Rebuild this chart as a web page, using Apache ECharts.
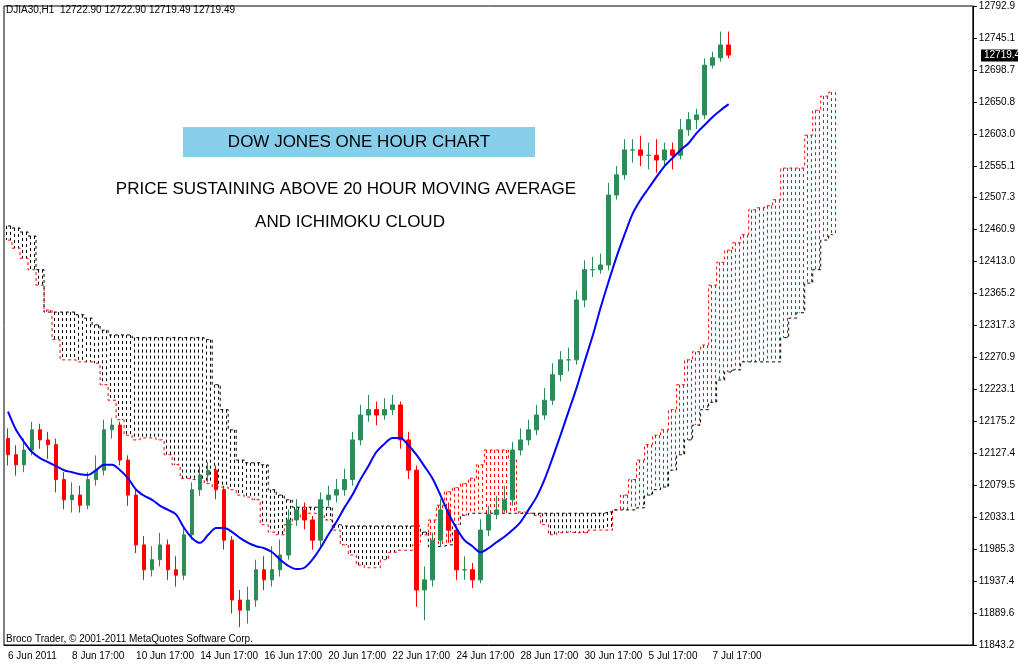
<!DOCTYPE html>
<html><head><meta charset="utf-8">
<script src="https://cdn.jsdelivr.net/npm/echarts@6/dist/echarts.min.js"></script>
<style>html,body{margin:0;padding:0;background:#fff}#c{width:1018px;height:666px}</style>
</head><body><div id="c"></div>
<script>
const dateLabels=['6 Jun 2011','8 Jun 17:00','10 Jun 17:00','14 Jun 17:00','16 Jun 17:00','20 Jun 17:00','22 Jun 17:00','24 Jun 17:00','28 Jun 17:00','30 Jun 17:00','5 Jul 17:00','7 Jul 17:00'];
const priceTicks=['11843.2','11889.6','11937.4','11985.3','12033.1','12079.5','12127.4','12175.2','12223.1','12270.9','12317.3','12365.2','12413.0','12460.9','12507.3','12555.1','12603.0','12650.8','12698.7','12745.1','12792.9'];
const lastPrice=12719.49;
const opens=[12150,12126,12111,12133,12163,12148,12141,12089,12059,12066,12051,12089,12103,12163,12170,12118,12066,11992,11955,11970,11992,11955,11947,12007,12074,12096,12103,12074,11999,11910,11895,11910,11955,11940,11955,11977,12029,12044,12029,11999,12059,12066,12074,12089,12148,12185,12193,12185,12193,12200,12148,12103,11925,11940,11999,12044,12014,11955,11955,11940,12014,12037,12044,12059,12133,12148,12163,12185,12207,12245,12267,12267,12356,12401,12401,12408,12512,12542,12579,12579,12571,12571,12564,12579,12571,12609,12624,12631,12705,12716,12735];
const closes=[12126,12111,12133,12163,12148,12141,12089,12059,12066,12051,12089,12103,12163,12170,12118,12066,11992,11955,11970,11992,11955,11947,12007,12074,12096,12103,12074,11999,11910,11895,11910,11955,11940,11955,11977,12029,12044,12029,11999,12059,12066,12074,12089,12148,12185,12193,12185,12193,12200,12148,12103,11925,11940,11999,12044,12014,11955,11955,11940,12014,12037,12044,12059,12133,12148,12163,12185,12207,12245,12267,12267,12356,12401,12401,12408,12512,12542,12579,12579,12571,12571,12564,12579,12571,12609,12624,12631,12705,12716,12735,12720];
const highs=[12165,12140,12150,12175,12172,12160,12150,12100,12085,12080,12100,12125,12178,12180,12175,12125,12075,12005,11990,12010,12000,11975,12020,12085,12110,12115,12110,12080,12005,11925,11930,11970,11975,11990,12000,12045,12060,12055,12035,12070,12080,12090,12105,12160,12200,12215,12205,12210,12215,12205,12160,12110,11960,12010,12060,12055,12020,11975,11965,12030,12050,12065,12080,12145,12165,12178,12200,12225,12262,12280,12285,12370,12415,12420,12425,12530,12555,12595,12595,12600,12590,12595,12590,12590,12625,12635,12640,12715,12725,12755,12755];
const lows=[12110,12095,12100,12125,12135,12120,12070,12045,12040,12040,12045,12080,12095,12150,12110,12050,11980,11940,11945,11960,11940,11930,11940,12000,12065,12085,12060,11985,11890,11870,11875,11900,11925,11930,11945,11970,12020,12015,11985,11990,12050,12055,12065,12080,12140,12175,12170,12178,12185,12135,12090,11900,11880,11930,11990,11995,11940,11940,11928,11935,12005,12030,12040,12050,12125,12140,12155,12178,12200,12235,12250,12260,12345,12390,12395,12400,12505,12535,12560,12555,12550,12545,12555,12550,12565,12600,12610,12625,12700,12710,12715];
const ma20=[12190,12163,12145,12130,12121,12115,12109,12103,12100,12097,12096,12103,12111,12111,12103,12091,12074,12065,12059,12050,12044,12037,12017,12002,11995,12007,12017,12017,12011,12002,11995,11990,11987,11981,11970,11961,11956,11958,11970,11987,12007,12026,12047,12066,12089,12109,12130,12142,12151,12151,12140,12126,12109,12091,12066,12039,12017,11999,11990,11981,11987,11996,12004,12014,12026,12044,12063,12089,12121,12155,12190,12225,12264,12302,12344,12383,12420,12453,12484,12505,12522,12539,12555,12567,12579,12589,12604,12616,12628,12638,12647];
const spanA=[12445,12433,12418,12401,12378,12341,12297,12267,12267,12264,12264,12262,12230,12207,12178,12155,12148,12151,12151,12148,12126,12111,12091,12089,12089,12083,12078,12078,12074,12066,12063,12059,12022,12011,12007,12022,12032,12039,12039,12036,12029,12014,11992,11977,11962,11958,11958,11970,11981,11984,11984,11992,12007,12029,12051,12071,12077,12083,12091,12111,12133,12133,12133,12118,12041,12039,12036,12022,12007,12010,12011,12010,12010,12014,12014,12014,12044,12066,12089,12118,12141,12155,12163,12193,12230,12267,12279,12289,12378,12412,12430,12441,12453,12490,12493,12496,12505,12552,12552,12552,12601,12638,12659,12665];
const spanB=[12466,12463,12457,12451,12401,12338,12338,12338,12338,12334,12329,12319,12311,12304,12304,12304,12300,12300,12300,12300,12300,12300,12300,12300,12300,12297,12230,12193,12163,12118,12114,12114,12111,12074,12066,12059,12048,12048,12048,12048,12048,12022,12020,12020,12020,12020,12020,12020,12020,12020,12020,12020,12011,11989,11990,11992,12022,12036,12039,12039,12039,12039,12039,12039,12039,12039,12039,12039,12039,12039,12039,12039,12039,12039,12039,12041,12044,12044,12044,12047,12066,12074,12078,12103,12126,12148,12170,12193,12204,12237,12249,12252,12264,12264,12264,12264,12264,12300,12329,12337,12381,12401,12445,12453];
const NCAT=121;
const categories=[];for(let i=0;i<NCAT;i++)categories.push('b'+i);
const candleData=opens.map((o,i)=>[o,closes[i],lows[i],highs[i]]);
const chart=echarts.init(document.getElementById('c'),null,{renderer:'canvas'});
const F='"Liberation Sans", Arial, sans-serif';
function hatchSeries(up,col){
 const data=[];spanA.forEach((a,i)=>{if((a>=spanB[i])===up)data.push(['b'+i,a,spanB[i]]);});
 return {type:'custom',yAxisIndex:0,z:1,silent:true,data:data,encode:{x:0,y:[1,2]},
  renderItem:(params,api)=>{
   const k=api.value(0),a=api.value(1),b=api.value(2);
   const p1=api.coord([k,a]),p2=api.coord([k,b]);
   const w=api.size([1,0])[0];
   const y0=Math.min(p1[1],p2[1]),y1=Math.max(p1[1],p2[1]);
   let d='';
   [-w/4,w/4].forEach(o=>{const x=Math.round(p1[0]+o)+0.5;for(let y=y0;y<y1;y+=6){d+='M'+x+' '+y+'L'+x+' '+Math.min(y+3,y1);}});
   if(!d)return null;
   return {type:'path',shape:{pathData:d},style:{stroke:col,fill:'none',lineWidth:1}};
  }};
}
chart.setOption({
 animation:false,
 grid:{left:4,right:43,top:6,bottom:21,show:true,borderColor:'#000',borderWidth:1},
 xAxis:{type:'category',data:categories,boundaryGap:true,
  axisLine:{lineStyle:{color:'#000'}},axisTick:{show:false},
  axisLabel:{interval:0,color:'#000',fontSize:10,fontFamily:F,align:'left',margin:6,
   formatter:(v,idx)=>(idx%8===0&&dateLabels[idx/8])?dateLabels[idx/8]:''},splitLine:{show:false}},
 yAxis:[{type:'value',min:11843.2,max:12792.9,position:'right',show:false,scale:true},
  {type:'value',min:0,max:20,interval:1,position:'right',
   axisLine:{show:true,lineStyle:{color:'#000'}},axisTick:{show:true,length:4,lineStyle:{color:'#000'}},
   splitLine:{show:false},
   axisLabel:{color:'#000',fontSize:10,fontFamily:F,margin:6,formatter:v=>priceTicks[v]}}],
 series:[
  hatchSeries(true,'#ff0000'),
  hatchSeries(false,'#000000'),
  {type:'line',yAxisIndex:0,data:spanA,step:'middle',symbol:'none',lineStyle:{color:'#ff0000',width:1,type:[3,3]},z:2},
  {type:'line',yAxisIndex:0,data:spanB,step:'middle',symbol:'none',lineStyle:{color:'#000',width:1,type:[3,3]},z:2},
  {type:'candlestick',yAxisIndex:0,data:candleData,barWidth:4,z:3,
   itemStyle:{color:'#2e8b57',color0:'#ff0000',borderColor:'#2e8b57',borderColor0:'#ff0000',borderWidth:1}},
  {type:'line',yAxisIndex:0,data:ma20,symbol:'none',smooth:0.3,lineStyle:{color:'#0000ff',width:2},z:4}
 ],
 graphic:[
  {type:'rect',shape:{x:183,y:127,width:352,height:30},style:{fill:'#87ceeb'}},
  {type:'text',x:359,y:142,style:{text:'DOW JONES ONE HOUR CHART',font:'17px "Liberation Sans", Arial, sans-serif',fill:'#000',align:'center',verticalAlign:'middle'}},
  {type:'text',x:346,y:189,style:{text:'PRICE SUSTAINING ABOVE 20 HOUR MOVING AVERAGE',font:'17px "Liberation Sans", Arial, sans-serif',fill:'#000',align:'center',verticalAlign:'middle'}},
  {type:'text',x:350,y:222,style:{text:'AND ICHIMOKU CLOUD',font:'17px "Liberation Sans", Arial, sans-serif',fill:'#000',align:'center',verticalAlign:'middle'}},
  {type:'text',x:6,y:5,style:{text:'DJIA30,H1  12722.90 12722.90 12719.49 12719.49',font:'10px '+F,fill:'#000'}},
  {type:'text',x:6,y:634,style:{text:'Broco Trader, © 2001-2011 MetaQuotes Software Corp.',font:'10px '+F,fill:'#000'}}
 ]
});
const py=chart.convertToPixel({yAxisIndex:0},lastPrice);
const gx=1018-43;
chart.setOption({graphic:[{type:'rect',id:'pbox',shape:{x:gx+6,y:py-6,width:42,height:12},style:{fill:'#000'}},
 {type:'text',id:'ptxt',x:gx+9,y:py,style:{text:String(lastPrice).slice(0,7),font:'10px '+F,fill:'#fff',verticalAlign:'middle'}}]});
</script></body></html>
